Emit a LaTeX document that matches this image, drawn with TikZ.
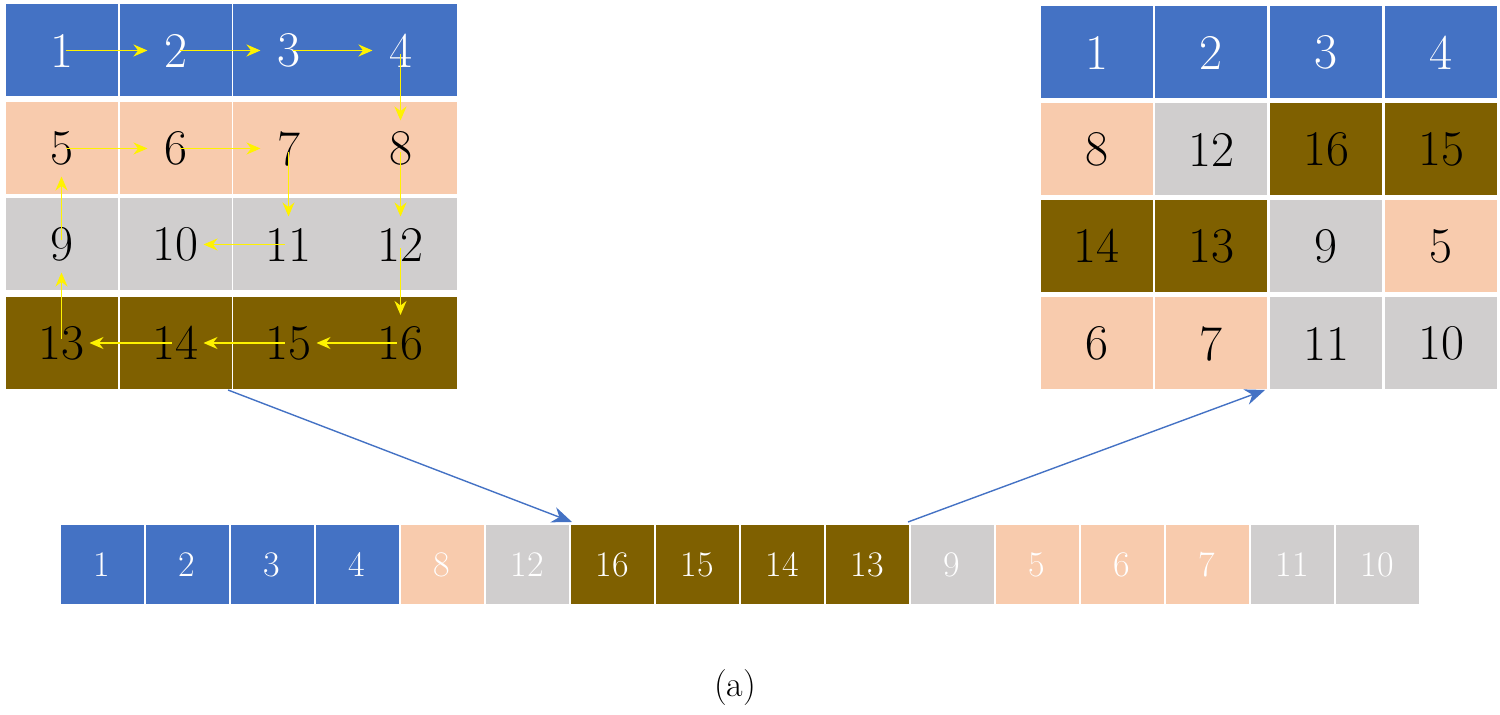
\documentclass[tikz,border=0pt]{standalone}
\usetikzlibrary{arrows.meta}
\definecolor{cblue}{HTML}{4472C4}
\definecolor{cpeach}{HTML}{F8CBAD}
\definecolor{cgray}{HTML}{D0CECE}
\definecolor{cbrown}{HTML}{7F6000}
\begin{document}
\begin{tikzpicture}[x=0.5pt,y=-0.5pt,
  cell/.style={draw=none,inner sep=0pt,minimum width=56pt,minimum height=46pt,font=\fontsize{25}{30}\selectfont},
  scell/.style={draw=none,inner sep=0pt,minimum width=41.5pt,minimum height=39.5pt,font=\fontsize{18}{22}\selectfont,text=white},
  ya/.style={draw=yellow,line width=0.7pt,-{Stealth[length=7pt,width=6pt]},shorten >=14pt,shorten <=2pt},
  ba/.style={draw=cblue,line width=0.7pt,-{Stealth[length=10pt,width=8pt]}}]
\useasboundingbox (0,0) rectangle (1500,715);
% left grid
\def\lx{{61.5,175.5,288.5,400.5}}
\def\ly{{50.5,148.5,244.5,343}}
\def\rx{{1096.5,1211,1326,1441}}
\def\ry{{52.5,149.5,246,343.5}}
\foreach \n/\c/\r/\col/\tc in {1/0/0/cblue/white,2/1/0/cblue/white,3/2/0/cblue/white,4/3/0/cblue/white,
 5/0/1/cpeach/black,6/1/1/cpeach/black,7/2/1/cpeach/black,8/3/1/cpeach/black,
 9/0/2/cgray/black,10/1/2/cgray/black,11/2/2/cgray/black,12/3/2/cgray/black,
 13/0/3/cbrown/black,14/1/3/cbrown/black,15/2/3/cbrown/black,16/3/3/cbrown/black}
 {\node[cell,fill=\col,text=\tc] (L\n) at (\lx[\c],\ly[\r]) {\n};}
% right grid
\foreach \n/\c/\r/\col/\tc in {1/0/0/cblue/white,2/1/0/cblue/white,3/2/0/cblue/white,4/3/0/cblue/white,
 8/0/1/cpeach/black,12/1/1/cgray/black,16/2/1/cbrown/black,15/3/1/cbrown/black,
 14/0/2/cbrown/black,13/1/2/cbrown/black,9/2/2/cgray/black,5/3/2/cpeach/black,
 6/0/3/cpeach/black,7/1/3/cpeach/black,11/2/3/cgray/black,10/3/3/cgray/black}
 {\node[cell,fill=\col,text=\tc] (R\n) at (\rx[\c],\ry[\r]) {\n};}
% strip
\foreach \n/\i/\col in {1/0/cblue,2/1/cblue,3/2/cblue,4/3/cblue,8/4/cpeach,12/5/cgray,16/6/cbrown,15/7/cbrown,14/8/cbrown,13/9/cbrown,9/10/cgray,5/11/cpeach,6/12/cpeach,7/13/cpeach,11/14/cgray,10/15/cgray}
 {\node[scell,fill=\col] (S\n) at ({102+\i*85},564.5) {\n};}
% yellow path
\foreach \a/\b in {1/2,2/3,3/4,4/8,5/6,6/7,7/11,8/12,11/10,12/16,16/15,15/14,14/13,13/9,9/5}
 {\draw[ya] (L\a.center) -- (L\b.center);}
% blue arrows
\coordinate (p1) at (228,390);
\coordinate (p2) at (572,522);
\coordinate (p3) at (908,522);
\coordinate (p4) at (1265,390);
\draw[ba] (p1) -- (p2);
\draw[ba] (p3) -- (p4);
\node[font=\fontsize{18}{22}\selectfont] (cap) at (735,688) {(a)};
\end{tikzpicture}
\end{document}
